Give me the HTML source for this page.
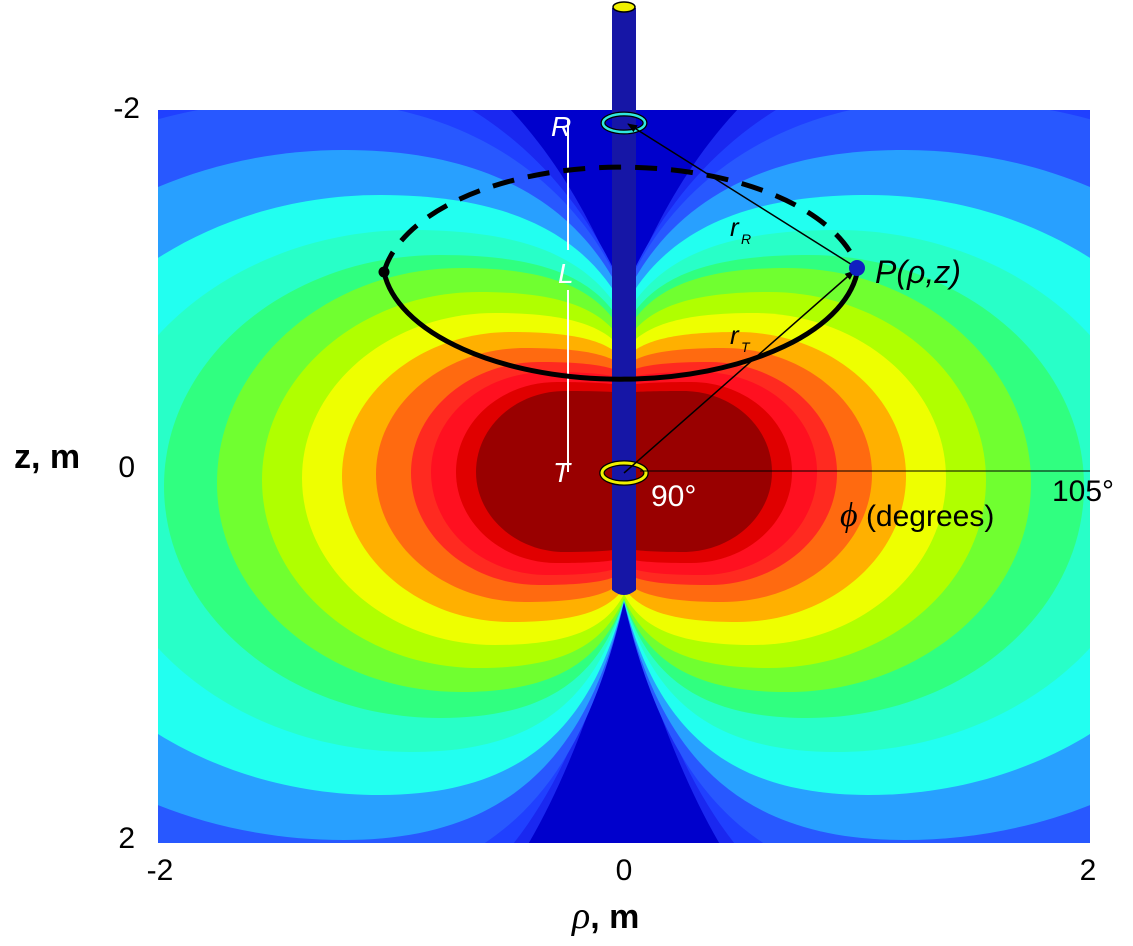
<!DOCTYPE html>
<html><head><meta charset="utf-8"><style>
html,body{margin:0;padding:0;background:#fff;overflow:hidden;width:1133px;height:946px;}
svg{display:block;overflow:hidden;}
text{font-family:"Liberation Sans",Arial,sans-serif;}
</style></head><body>
<svg width="1133" height="946" viewBox="0 0 1133 946" xmlns="http://www.w3.org/2000/svg">
<defs>
<clipPath id="rc"><rect x="624" y="110" width="466" height="733"/></clipPath>
<clipPath id="lc"><rect x="158" y="110" width="466" height="733"/></clipPath>
<g id="lobe">
<path fill="#1a28f0" d="M624,300 C686,140 800,-20 1064,-20 C1427,-20 1724,216 1724,505 C1724,800 1427,1040 1064,1040 C800,1040 700,865 624,602Z"/>
<path fill="#2040ff" d="M624,292 C680,160 800,50 1004,50 C1318,50 1574,255 1574,505 C1574,755 1318,960 1004,960 C767,960 690,817 624,602Z"/>
<path fill="#2858ff" d="M624,294 C672,180 784,100 944,100 C1208,100 1424,282 1424,505 C1424,717 1208,890 944,890 C744,890 664,775 624,602Z"/>
<path fill="#28a0ff" d="M624,300 C664,212 750,150 904,150 C1135,150 1324,310 1324,505 C1324,689 1135,840 904,840 C729,840 659,745 624,602Z"/>
<path fill="#22fff0" d="M624,308 C660,240 730,195 868,195 C1069,195 1234,332 1234,500 C1234,662 1069,795 868,795 C716,795 655,718 624,601Z"/>
<path fill="#28ffc8" d="M624,318 C654,265 710,230 836,230 C1011,230 1154,349 1154,492 C1154,635 1011,752 836,752 C704,752 651,692 624,601Z"/>
<path fill="#30ff80" d="M624,328 C648,284 693,255 808,255 C960,255 1084,359 1084,486 C1084,614 960,718 808,718 C693,718 647,671 624,600Z"/>
<path fill="#70ff30" d="M624,337 C644,296 685,268 787,268 C921,268 1031,365 1031,483 C1031,598 921,692 787,692 C685,692 644,655 624,600Z"/>
<path fill="#b0ff00" d="M624,345 C642,313 678,292 769,292 C888,292 986,377 986,480 C986,583 888,668 769,668 C678,668 642,640 624,598Z"/>
<path fill="#eeff00" d="M624,352 C640,329 672,313 753,313 C859,313 946,387 946,478 C946,570 859,645 753,645 C672,645 640,625 624,594Z"/>
<path fill="#ffb000" d="M624,360 C638,343 666,332 737,332 C830,332 906,397 906,476 C906,556 830,622 737,622 C666,622 638,608 624,588Z"/>
<path fill="#ff6a10" d="M624,367 C636,356 661,348 723,348 C805,348 872,405 872,474 C872,544 805,602 723,602 C661,602 636,593 624,580Z"/>
<path fill="#ff2a20" d="M624,374 C635,367 656,362 709,362 C779,362 837,412 837,473 C837,535 779,585 709,585 C656,585 635,580 624,572Z"/>
<path fill="#ff1020" d="M624,380 C634,375 653,372 701,372 C765,372 817,417 817,472 C817,529 765,575 701,575 C653,575 634,571 624,565Z"/>
<path fill="#e00000" d="M624,386 C632,384 649,382 691,382 C747,382 792,422 792,472 C792,522 747,563 691,563 C649,563 632,561 624,557Z"/>
<path fill="#990000" d="M624,393 C631,392 646,391 683,391 C732,391 772,427 772,472 C772,516 732,552 683,552 C646,552 631,550 624,548Z"/>
</g>
<marker id="ah" markerWidth="10" markerHeight="10" refX="9" refY="5" orient="auto" markerUnits="userSpaceOnUse">
<path d="M0,1 L10,5 L0,9 Z" fill="#000"/></marker>
</defs>
<rect x="158" y="110" width="932" height="733" fill="#0000cc"/>
<g clip-path="url(#rc)"><use href="#lobe"/></g>
<g clip-path="url(#lc)"><use href="#lobe" transform="translate(1248,0) scale(-1,1)"/></g>

<path d="M612,8 L636,8 L636,590 Q624,600 612,590 Z" fill="#1616a6"/>
<ellipse cx="624" cy="7" rx="11" ry="5" fill="#f0f000" stroke="#000" stroke-width="1.5"/>

<ellipse cx="624" cy="123" rx="21" ry="9" fill="none" stroke="#000" stroke-width="5"/>
<ellipse cx="624" cy="123" rx="21" ry="9" fill="none" stroke="#30e8e0" stroke-width="2.5"/>
<ellipse cx="624" cy="473" rx="22" ry="10" fill="none" stroke="#000" stroke-width="5.5"/>
<ellipse cx="624" cy="473" rx="22" ry="10" fill="none" stroke="#f0f000" stroke-width="3"/>

<line x1="568" y1="120" x2="568" y2="250" stroke="#fff" stroke-width="2"/>
<line x1="568" y1="290" x2="568" y2="472" stroke="#fff" stroke-width="2"/>
<text x="551" y="136" font-size="28" font-style="italic" fill="#fff">R</text>
<text x="558" y="283" font-size="28" font-style="italic" fill="#fff">L</text>
<text x="553" y="482" font-size="28" font-style="italic" fill="#fff">T</text>

<path d="M384,272 A240,122 0 0 1 858,268" fill="none" stroke="#000" stroke-width="5" stroke-dasharray="22,14"/>
<path d="M384,272 A238,120 0 0 0 858,268" fill="none" stroke="#000" stroke-width="5"/>
<circle cx="384" cy="272" r="5.5" fill="#000"/>

<line x1="624" y1="473" x2="854" y2="271" stroke="#000" stroke-width="1.5" marker-end="url(#ah)"/>
<line x1="857" y1="268" x2="628" y2="124" stroke="#000" stroke-width="1.5" marker-end="url(#ah)"/>
<circle cx="857" cy="268" r="8" fill="#1020c0"/>

<line x1="640" y1="471" x2="1090" y2="471" stroke="#000" stroke-width="1"/>

<text x="875" y="283" font-size="32" font-style="italic" fill="#000">P(ρ,z)</text>
<text x="730" y="236" font-size="26" font-style="italic" fill="#000">r</text>
<text x="741" y="244" font-size="14" font-style="italic" fill="#000">R</text>
<text x="730" y="344" font-size="26" font-style="italic" fill="#000">r</text>
<text x="741" y="352" font-size="14" font-style="italic" fill="#000">T</text>
<text x="651" y="506" font-size="30" fill="#fff">90°</text>
<text x="1052" y="501" font-size="30" fill="#000">105°</text>
<text x="840" y="526" font-size="30" fill="#000"><tspan font-style="italic" font-family="Liberation Serif,serif" font-size="34">ϕ</tspan> (degrees)</text>

<text x="140" y="118" font-size="30" text-anchor="end">-2</text>
<text x="135" y="477" font-size="30" text-anchor="end">0</text>
<text x="135" y="848" font-size="30" text-anchor="end">2</text>
<text x="14" y="468" font-size="34" font-weight="bold">z, m</text>
<text x="160" y="880" font-size="30" text-anchor="middle">-2</text>
<text x="624" y="880" font-size="30" text-anchor="middle">0</text>
<text x="1088" y="880" font-size="30" text-anchor="middle">2</text>
<text x="572" y="928" font-size="34" font-weight="bold"><tspan font-style="italic" font-weight="normal" font-family="Liberation Serif,serif" font-size="38">ρ</tspan>, m</text>
</svg>
</body></html>
